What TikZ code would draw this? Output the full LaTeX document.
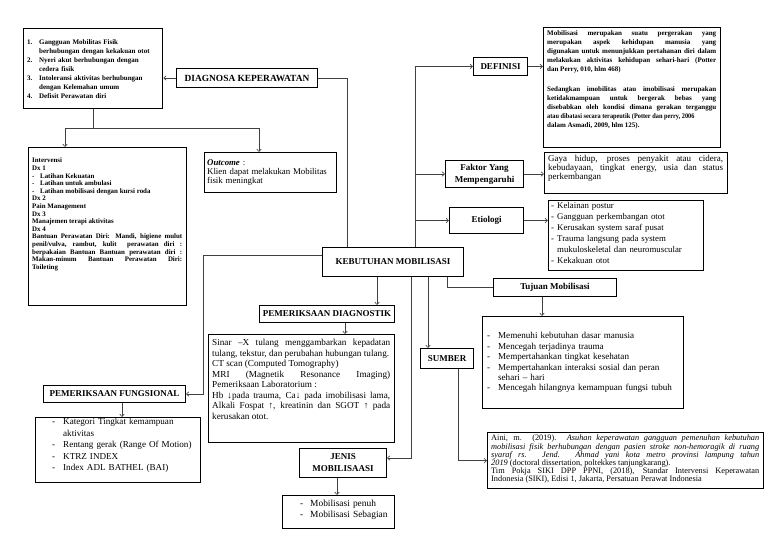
\documentclass[tikz,border=0pt]{standalone}
\usepackage{fontspec}
\usepackage{graphicx}
\setmainfont{Liberation Serif}
\usetikzlibrary{arrows.meta}
\newcommand{\fs}[2]{\fontsize{#1}{#2}\selectfont}
\newcommand{\itm}[1]{\makebox[#1][l]{-}}
\begin{document}
\begin{tikzpicture}[x=1pt,y=-1pt,
  frame/.style={draw, line width=1.3pt, anchor=north west, inner sep=0pt},
  lbl/.style={draw, line width=1pt, anchor=north west, inner sep=0pt, align=center, font=\fs{9}{11}\bfseries},
  txt/.style={anchor=north west, inner sep=0pt},
  conn/.style={draw=black!75, line width=0.6pt},
  arr/.style={conn, -{Straight Barb[length=2.5pt,width=4.5pt]}},
]
\useasboundingbox[fill=white] (0,0) rectangle (768,543);

% ---------- boxes ----------
\node[frame, minimum width=139pt, minimum height=80pt, text width=132pt, align=left, font=\fs{7}{9}\bfseries] (dxlist) at (23,28) {%
\makebox[12pt][l]{1.}Gangguan Mobilitas Fisik\\
\hspace*{12pt}berhubungan dengan kekakuan otot\\
\makebox[12pt][l]{2.}Nyeri akut berhubungan dengan\\
\hspace*{12pt}cedera fisik\\
\makebox[12pt][l]{3.}Intoleransi aktivitas berhubungan\\
\hspace*{12pt}dengan Kelemahan umum\\
\makebox[12pt][l]{4.}Defisit Perawatan diri};

\node[lbl, minimum width=141pt, minimum height=19pt, font=\fs{9.4}{11}\bfseries] (diag) at (176,68) {DIAGNOSA KEPERAWATAN};

\node[frame, minimum width=158pt, minimum height=158pt] (interv) at (28,147) {};
\node[txt, text width=150pt, align=justify, font=\fs{6.9}{7.6}\bfseries] (intervt) at (32,158) {%
Intervensi\\
Dx 1\\
\itm{8pt}Latihan Kekuatan\\
\itm{8pt}Latihan untuk ambulasi\\
\itm{8pt}Latihan mobilisasi dengan kursi roda\\
Dx 2\\
Pain Management\\
Dx 3\\
Manajemen terapi aktivitas\\
Dx 4\\
Bantuan Perawatan Diri: Mandi, higiene mulut\linebreak
penil/vulva, rambut, kulit\ \ perawatan diri :\linebreak
berpakaian Bantuan Bantuan perawatan diri :\linebreak
Makan-minum Bantuan Perawatan Diri:\linebreak
Toileting};

\node[frame, minimum width=132pt, minimum height=40pt, text width=127pt, align=left, font=\fs{8.8}{8.8}] (outcome) at (204,152) {%
\textbf{\textit{Outcome}} :\\
Klien dapat melakukan Mobilitas\\
fisik meningkat};

\node[lbl, minimum width=54pt, minimum height=18pt] (defbox) at (473,57) {DEFINISI};

\node[frame, minimum width=177pt, minimum height=120pt] (deftext) at (543,27) {};
\node[txt, text width=169pt, align=justify, font=\fs{7}{9}\bfseries] (deftextt) at (547,30) {%
Mobilisasi merupakan suatu pergerakan yang\linebreak
merupakan aspek kehidupan manusia yang\linebreak
digunakan untuk menunjukkan pertahanan diri dalam\linebreak
melakukan aktivitas kehidupan sehari-hari (Potter\linebreak
dan Perry, 010, hlm 468)\par\vspace{11pt}
Sedangkan imobilitas atau imobilisasi merupakan\linebreak
ketidakmampuan untuk bergerak bebas yang\linebreak
disebabkan oleh kondisi dimana gerakan terganggu\linebreak
\scalebox{0.9}[1]{atau dibatasi secara terapeutik (Potter dan perry, 2006}\linebreak
dalam Asmadi, 2009, hlm 125).};

\node[lbl, minimum width=78pt, minimum height=27pt, font=\fs{9}{12}\bfseries] (faktor) at (445,160) {Faktor Yang\\Mempengaruhi};

\node[frame, minimum width=183pt, minimum height=41pt] (faktortext) at (544,152) {};
\node[txt, text width=175pt, align=justify, font=\fs{9}{9}] (faktortextt) at (548,155) {%
Gaya hidup, proses penyakit atau cidera,\linebreak
kebudayaan, tingkat energy, usia dan status\linebreak
perkembangan};

\node[lbl, minimum width=74pt, minimum height=26pt] (etio) at (449,207) {Etiologi};

\node[frame, minimum width=155pt, minimum height=70pt] (etiolist) at (548,200) {};
\node[txt, text width=150pt, align=left, font=\fs{8.8}{11}] (etiolistt) at (551,202) {%
\itm{6pt}Kelainan postur\\
\itm{6pt}Gangguan perkembangan otot\\
\itm{6pt}Kerusakan system saraf pusat\\
\itm{6pt}Trauma langsung pada system\\
\hspace*{6pt}mukuloskeletal dan neuromuscular\\
\itm{6pt}Kekakuan otot};

\node[lbl, minimum width=141pt, minimum height=29pt] (keb) at (322,247) {KEBUTUHAN MOBILISASI};

\node[lbl, minimum width=123pt, minimum height=18pt] (tujuan) at (493,278) {Tujuan Mobilisasi};

\node[frame, minimum width=201pt, minimum height=92pt, text width=192pt, align=left, font=\fs{9.1}{10.4}] (tujuanlist) at (482,316) {%
\itm{11pt}Memenuhi kebutuhan dasar manusia\\
\itm{11pt}Mencegah terjadinya trauma\\
\itm{11pt}Mempertahankan tingkat kesehatan\\
\itm{11pt}Mempertahankan interaksi sosial dan peran\\
\hspace*{11pt}sehari – hari\\
\itm{11pt}Mencegah hilangnya kemampuan fungsi tubuh};

\node[lbl, minimum width=53pt, minimum height=20pt] (sumber) at (420,348) {SUMBER};

\node[frame, minimum width=276pt, minimum height=56pt] (ref) at (487,432) {};
\node[txt, text width=268pt, align=justify, font=\fs{8.3}{8.2}] (reft) at (491,435) {%
Aini, m. (2019). \textit{Asuhan keperawatan gangguan pemenuhan kebutuhan\linebreak
mobilisasi fisik berhubungan dengan pasien stroke non-hemoragik di ruang\linebreak
syaraf rs. Jend. Ahmad yani kota metro provinsi lampung tahun\linebreak
2019} (doctoral dissertation, poltekkes tanjungkarang).\par
Tim Pokja SIKI DPP PPNI, (2018), Standar Intervensi Keperawatan\linebreak
Indonesia (SIKI), Edisi 1, Jakarta, Persatuan Perawat Indonesia};

\node[lbl, minimum width=135pt, minimum height=17pt] (pdiag) at (259,305) {PEMERIKSAAN DIAGNOSTIK};

\node[frame, minimum width=186pt, minimum height=108pt] (pdiagtext) at (208,334) {};
\node[txt, text width=178pt, align=justify, font=\fs{9.2}{10.5}] (pdiagtextt) at (212,339) {%
Sinar –X tulang menggambarkan kepadatan\linebreak
tulang, tekstur, dan perubahan hubungan tulang.\\
CT scan (Computed Tomography)\\
MRI (Magnetik Resonance Imaging)\linebreak
Pemeriksaan Laboratorium :\\
Hb ↓pada trauma, Ca↓ pada imobilisasi lama,\linebreak
Alkali Fospat ↑, kreatinin dan SGOT ↑ pada\linebreak
kerusakan otot.};

\node[lbl, minimum width=142pt, minimum height=17pt] (pfung) at (43,385) {PEMERIKSAAN FUNGSIONAL};

\node[frame, minimum width=165pt, minimum height=65pt] (pfunglist) at (35,417) {};
\node[txt, text width=145pt, align=left, font=\fs{9.1}{11.5}] (pfunglistt) at (52,418) {%
\itm{11pt}Kategori Tingkat kemampuan\\
\hspace*{11pt}aktivitas\\
\itm{11pt}Rentang gerak (Range Of Motion)\\
\itm{11pt}KTRZ INDEX\\
\itm{11pt}Index ADL BATHEL (BAI)};

\node[lbl, minimum width=87pt, minimum height=29pt, font=\fs{9}{12}\bfseries] (jenis) at (299,448) {JENIS\\MOBILISAASI};

\node[frame, minimum width=112pt, minimum height=33pt] (jenislist) at (282,495) {};
\node[txt, text width=95pt, align=left, font=\fs{9.4}{11}] (jenislistt) at (300,500) {%
\itm{10pt}Mobilisasi penuh\\
\itm{10pt}Mobilisasi Sebagian};

% ---------- helper coordinates ----------
\coordinate (busL) at (65,128);
\coordinate (busR) at (259,128);
\coordinate (x347) at (347,0);
\coordinate (x415) at (415,0);
\coordinate (x203) at (203,0);
\coordinate (x377) at (377,0);
\coordinate (x411) at (411,0);
\coordinate (x428) at (428,0);
\coordinate (x447) at (447,0);
\coordinate (x458) at (458,0);
\coordinate (x542) at (542,0);
\coordinate (x345) at (345,0);
\coordinate (x122) at (122,0);
\coordinate (x337) at (337,0);

% ---------- connectors ----------
\draw[arr] (diag.west) -- (diag.west -| dxlist.east);
\draw[conn] (dxlist.south) -- (dxlist.south |- busL);
\draw[conn] (busL) -- (busR);
\draw[arr] (busL) -- (interv.north -| busL);
\draw[arr] (busR) -- (outcome.north -| busR);
\draw[conn] (diag.east) -| (keb.north -| x347);
\draw[arr] (keb.north -| x415) |- (defbox.west);
\draw[arr] (faktor.west -| x415) -- (faktor.west);
\draw[arr] (etio.west -| x415) -- (etio.west);
\draw[arr] (defbox.east) -- (defbox.east -| deftext.west);
\draw[arr] (faktor.east) -- (faktor.east -| faktortext.west);
\draw[arr] (etio.east) -- (etio.east -| etiolist.west);
\draw[arr] ([yshift=6.5pt]keb.west) -| (x203 |- pfung.east) -- (pfung.east);
\draw[arr] (keb.south -| x377) -- (pdiag.north -| x377);
\draw[arr] (keb.south -| x411) |- ([yshift=5pt]jenis.east);
\draw[arr] (keb.south -| x428) -- (sumber.north -| x428);
\draw[conn] (keb.south -| x447) |- (tujuan.west);
\draw[arr] (tujuan.south -| x542) -- (tujuanlist.north -| x542);
\draw[arr] (sumber.south -| x458) |- (ref.west);
\draw[arr] (pdiag.south -| x345) -- (pdiagtext.north -| x345);
\draw[arr] (pfung.south -| x122) -- (pfunglist.north -| x122);
\draw[arr] (jenis.south -| x337) -- (jenislist.north -| x337);
\end{tikzpicture}
\end{document}
